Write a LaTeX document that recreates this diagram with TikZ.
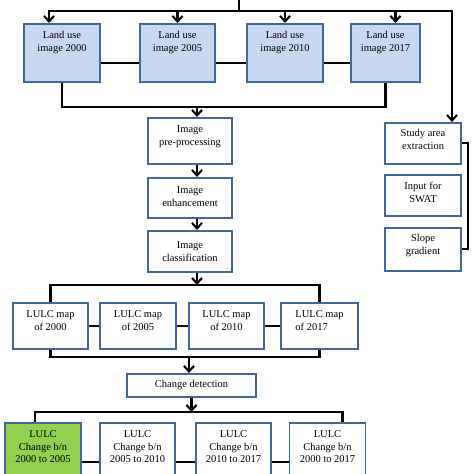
\documentclass[tikz,border=0pt]{standalone}
\usepackage{fontspec}
\setmainfont{Liberation Serif}
\usetikzlibrary{arrows.meta}
\definecolor{boxline}{HTML}{41679B}
\definecolor{boxfill}{HTML}{C6D9F1}
\definecolor{boxgreen}{HTML}{92D050}
\begin{document}
\begin{tikzpicture}[x=1pt, y=-1pt,
    box/.style={draw=boxline, line width=1.7pt, align=center, anchor=north, inner ysep=0pt,
        font=\fontsize{10.5}{12.5}\selectfont},
    link/.style={line width=2.1pt},
    arrow/.style={line width=2.1pt, -{Straight Barb[length=5.5pt,width=10pt]}}]
    \clip (0,0) rectangle (474,474);
    % land use images
    \node[box, fill=boxfill, minimum width=76pt, text height=27.5pt, text depth=30.5pt] (lu2000) at (62,23) {Land use\\image 2000};
    \node[box, fill=boxfill, minimum width=75pt, text height=27.5pt, text depth=30.5pt] (lu2005) at (177.5,23) {Land use\\image 2005};
    \node[box, fill=boxfill, minimum width=76pt, text height=27.5pt, text depth=30.5pt] (lu2010) at (285,23) {Land use\\image 2010};
    \node[box, fill=boxfill, minimum width=69pt, text height=27.5pt, text depth=30.5pt] (lu2017) at (385.5,23) {Land use\\image 2017};
    % processing chain
    \node[box, minimum width=84pt, text height=27.5pt, text depth=18.5pt] (pre) at (190,117) {Image\\pre-processing};
    \node[box, minimum width=84pt, text height=28.5pt, text depth=11.5pt] (enh) at (190,177) {Image\\enhancement};
    \node[box, minimum width=84pt, text height=30.5pt, text depth=10.5pt] (cls) at (190,230) {Image\\classification};
    % study area
    \node[box, minimum width=76pt, text height=26.5pt, text depth=14.5pt] (study) at (423,122) {Study area\\extraction};
    \node[box, minimum width=76pt, text height=27.5pt, text depth=13.5pt] (swat) at (423,174) {Input for\\SWAT};
    \node[box, minimum width=76pt, text height=26.5pt, text depth=16.5pt] (slope) at (423,227) {Slope\\gradient};
    % LULC maps
    \node[box, minimum width=75pt, text height=27.5pt, text depth=18.5pt] (m2000) at (50.5,302) {LULC map\\of 2000};
    \node[box, minimum width=76pt, text height=27.5pt, text depth=18.5pt] (m2005) at (138,302) {LULC map\\of 2005};
    \node[box, minimum width=75pt, text height=27.5pt, text depth=18.5pt] (m2010) at (226.5,302) {LULC map\\of 2010};
    \node[box, minimum width=77pt, text height=27.5pt, text depth=18.5pt, align=left] (m2017) at (319.5,302) {LULC map\\of 2017};
    \node[box, minimum width=129pt, text height=14pt, text depth=9pt] (chg) at (191.5,373) {Change detection};
    % LULC changes
    \node[box, fill=boxgreen, minimum width=76pt, text height=40pt, text depth=38pt] (c1) at (43,422) {LULC\\Change b/n\\2000 to 2005};
    \node[box, minimum width=75pt, text height=40pt, text depth=38pt] (c2) at (137.5,422) {LULC\\Change b/n\\2005 to 2010};
    \node[box, minimum width=75pt, text height=40pt, text depth=38pt] (c3) at (233.5,422) {LULC\\Change b/n\\2010 to 2017};
    \node[box, minimum width=76pt, text height=40pt, text depth=38pt] (c4) at (327.5,422) {LULC\\Change b/n\\2000 to 2017};
    % buses
    \coordinate (src) at (239,0);
    \coordinate (split) at (239,11);
    \coordinate (merge) at (197,107);
    \coordinate (maptop) at (197,285);
    \coordinate (mapbot) at (189,357);
    \coordinate (chgbus) at (191.5,412);
    % connectors
    \draw[link] (src) -- (split);
    \draw[arrow] (split) -| ([xshift=-13pt]lu2000.north);
    \draw[arrow] (split) -| (lu2005.north);
    \draw[arrow] (split) -| (lu2010.north);
    \draw[arrow] (split) -| ([xshift=10pt]lu2017.north);
    \draw[arrow] (split) -| ([xshift=29pt]study.north);
    \draw[link] ([yshift=-10pt]lu2000.east) -- ([yshift=-10pt]lu2005.west);
    \draw[link] ([yshift=-10pt]lu2005.east) -- ([yshift=-10pt]lu2010.west);
    \draw[link] ([yshift=-10pt]lu2010.east) -- ([yshift=-10pt]lu2017.west);
    \draw[link] (lu2000.south) |- (merge) -| (lu2017.south);
    \draw[arrow] (merge) -- ([xshift=7pt]pre.north);
    \draw[arrow] ([xshift=7pt]pre.south) -- ([xshift=7pt]enh.north);
    \draw[arrow] ([xshift=7pt]enh.south) -- ([xshift=7pt]cls.north);
    \draw[link] (study.east) -- ++(6,0) |- (slope.east);
    \draw[link] (m2000.north) |- (maptop) -| (m2017.north);
    \draw[arrow] ([xshift=7pt]cls.south) -- (maptop);
    \draw[link] (m2000.east) -- (m2005.west);
    \draw[link] (m2005.east) -- (m2010.west);
    \draw[link] (m2010.east) -- (m2017.west);
    \draw[link] (m2000.south) |- (mapbot) -| (m2017.south);
    \draw[arrow] (mapbot) -- (mapbot |- chg.north);
    \draw[arrow] (chg.south) -- (chgbus);
    \draw[link] ([xshift=-8pt]c1.north) |- (chgbus) -| ([xshift=15pt]c4.north);
    \draw[link] (c1.east) -- (c2.west);
    \draw[link] (c2.east) -- (c3.west);
    \draw[link] (c3.east) -- (c4.west);
\end{tikzpicture}
\end{document}
